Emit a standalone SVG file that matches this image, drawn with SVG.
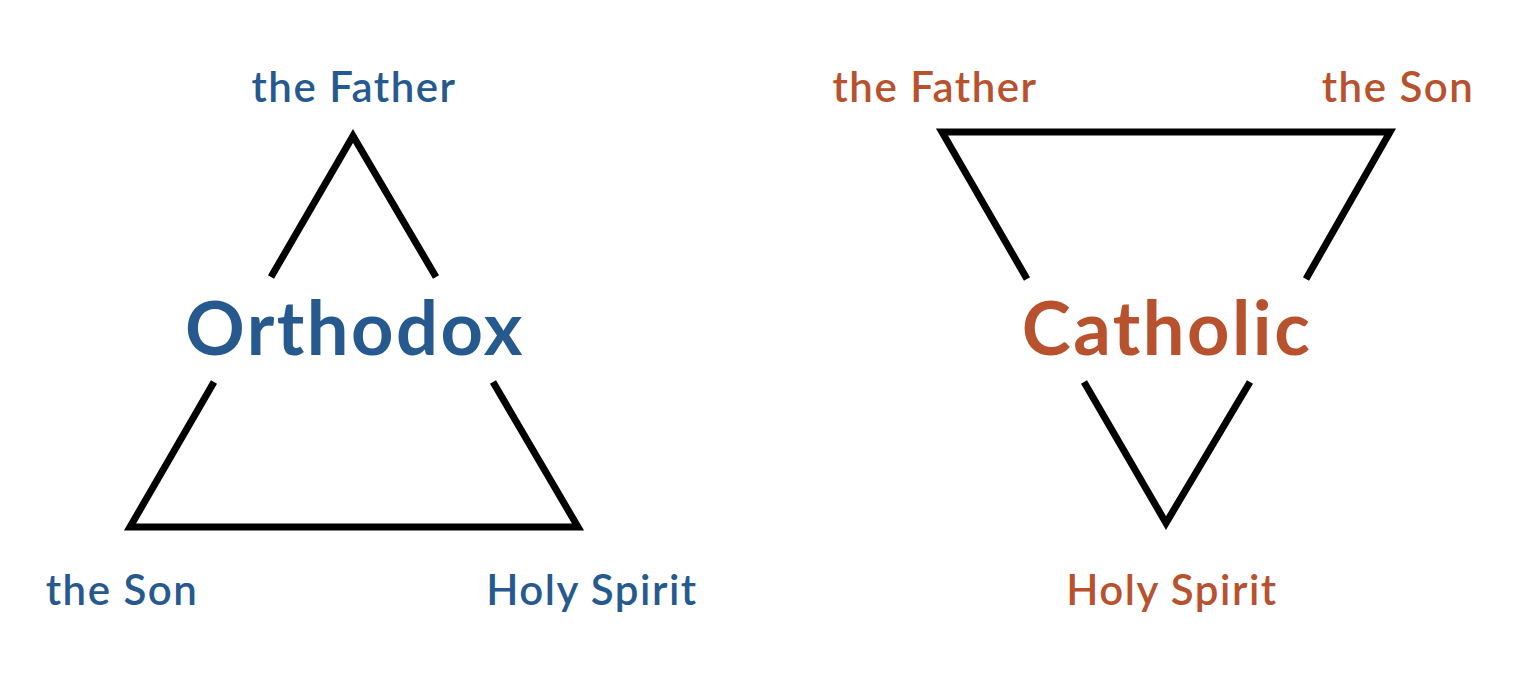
<svg xmlns="http://www.w3.org/2000/svg" width="1523" height="675" viewBox="0 0 1523 675">
<style>
.e{stroke:#000;stroke-width:7;fill:none;stroke-linecap:butt;stroke-linejoin:miter}
.l{font-family:Lato,"Liberation Sans",sans-serif;font-size:42px;font-weight:600;text-anchor:middle;letter-spacing:1.5px}
.t{font-family:Lato,"Liberation Sans",sans-serif;font-size:74px;font-weight:bold;text-anchor:middle;letter-spacing:2.5px}
.o{fill:#265a8f}.c{fill:#b8522e}
</style>
<rect width="1523" height="675" fill="#fff"/>
<g id="connectors">
<polyline class="e" points="271,277 353,136 436,277"/>
<polyline class="e" points="214,382 130,527 578,527 493,382"/>
<polyline class="e" points="1027,279 942,132 1390,132 1306,279"/>
<polyline class="e" points="1084,382 1166,523 1250,382"/>
</g>
<g id="orthodox"><text class="t o" x="355" y="355">Orthodox</text></g>
<g id="o-father"><text class="l o" x="354" y="102">the Father</text></g>
<g id="o-son"><text class="l o" x="122" y="605">the Son</text></g>
<g id="o-spirit"><text class="l o" x="592" y="605">Holy Spirit</text></g>
<g id="catholic"><text class="t c" x="1167" y="355">Catholic</text></g>
<g id="c-father"><text class="l c" x="935" y="102">the Father</text></g>
<g id="c-son"><text class="l c" x="1398" y="102">the Son</text></g>
<g id="c-spirit"><text class="l c" x="1172" y="605">Holy Spirit</text></g>
</svg>
